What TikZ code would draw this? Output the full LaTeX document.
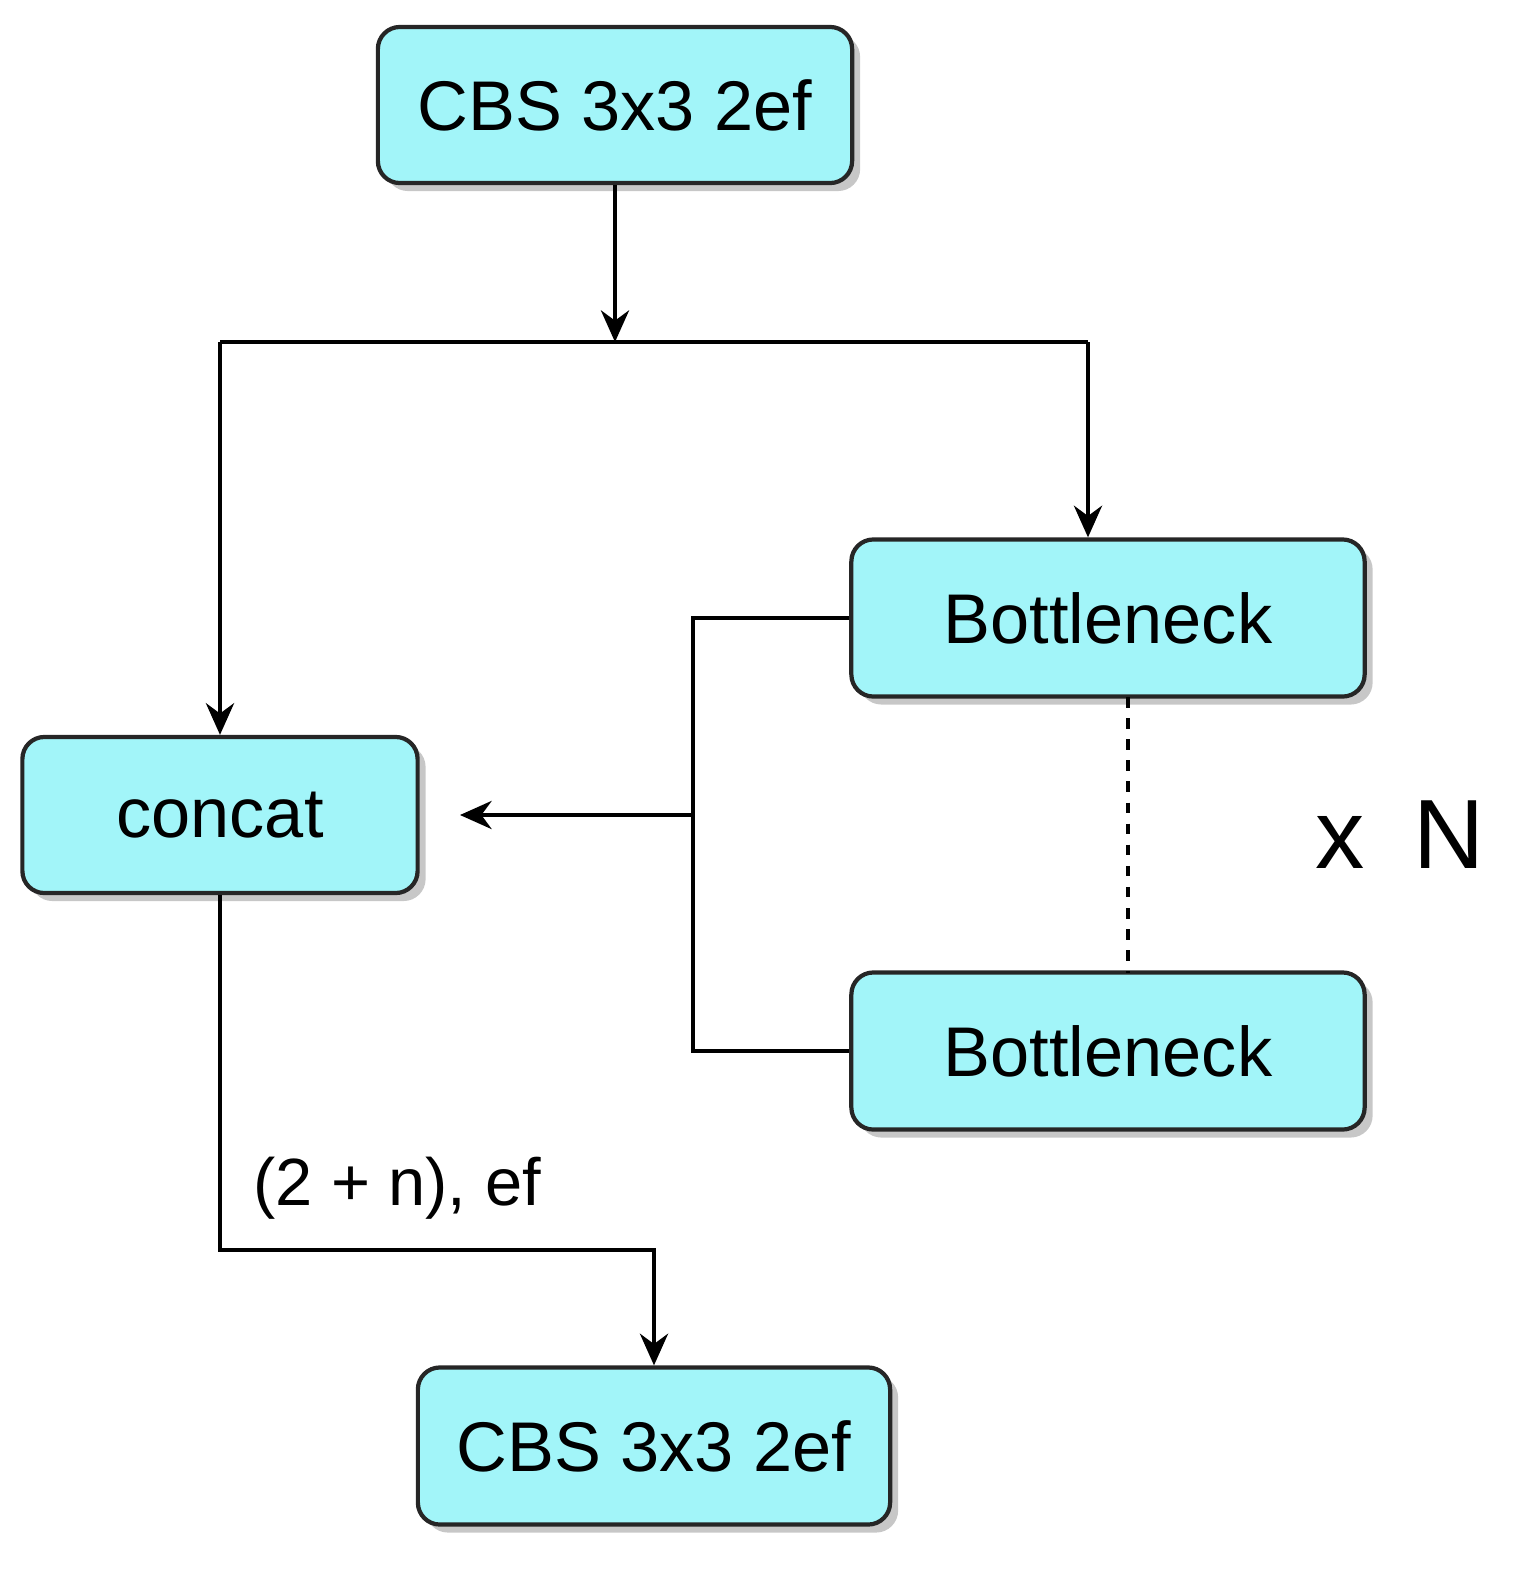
\documentclass[tikz,border=0pt]{standalone}
\usepackage{fontspec}
\setmainfont{Liberation Sans}
\usetikzlibrary{arrows.meta}
\definecolor{boxc}{HTML}{A2F5F9}
\begin{document}
\begin{tikzpicture}[x=0.01cm,y=-0.01cm,
  box/.style={draw=black!85,line width=1.2pt,fill=boxc,rounded corners=0.22cm,
    preaction={fill=black!22,draw=none,transform canvas={xshift=0.08cm,yshift=-0.08cm}},
    font=\fontsize{20}{22}\selectfont,inner sep=0pt},
  ln/.style={line width=1.1pt},
  arr/.style={ln,-{Stealth[length=9pt,width=8pt]}}]
\useasboundingbox (0,0) rectangle (1538,1593);
\node[box,minimum width=4.74cm,minimum height=1.56cm] (cbs1) at (615,105) {CBS 3x3 2ef};
\node[box,minimum width=5.13cm,minimum height=1.57cm] (b1) at (1108,618) {Bottleneck};
\node[box,minimum width=3.95cm,minimum height=1.56cm] (cc) at (220,815) {concat};
\node[box,minimum width=5.13cm,minimum height=1.57cm] (b2) at (1108,1051) {Bottleneck};
\node[box,minimum width=4.72cm,minimum height=1.57cm] (cbs2) at (654,1446) {CBS 3x3 2ef};
\coordinate (s) at (615,342);
\coordinate (sl) at (220,342);
\coordinate (sr) at (1088,342);
\coordinate (j1) at (693,618);
\coordinate (j2) at (693,1051);
\coordinate (jm) at (693,815);
\coordinate (ce) at (460,815);
\coordinate (d1) at (220,1250);
\coordinate (d2) at (654,1250);
\draw[arr] (cbs1.south) -- (s);
\draw[ln] (sl) -- (sr);
\draw[arr] (sl) -- (cc.north);
\draw[arr] (sr) -- (b1.north -| sr);
\draw[ln] (b1.west) -- (j1) -- (j2) -- (b2.west);
\draw[arr] (jm) -- (ce);
\draw[ln,dashed] (1128,697) -- (1128,973);
\draw[arr] (cc.south) -- (d1) -- (d2) -- (cbs2.north);
\node[font=\fontsize{19}{21}\selectfont] (lab) at (397,1188) {(2 + n), ef};
\node[font=\fontsize{28}{30}\selectfont] (xn) at (1400,835) {x\enspace N};
\end{tikzpicture}
\end{document}
